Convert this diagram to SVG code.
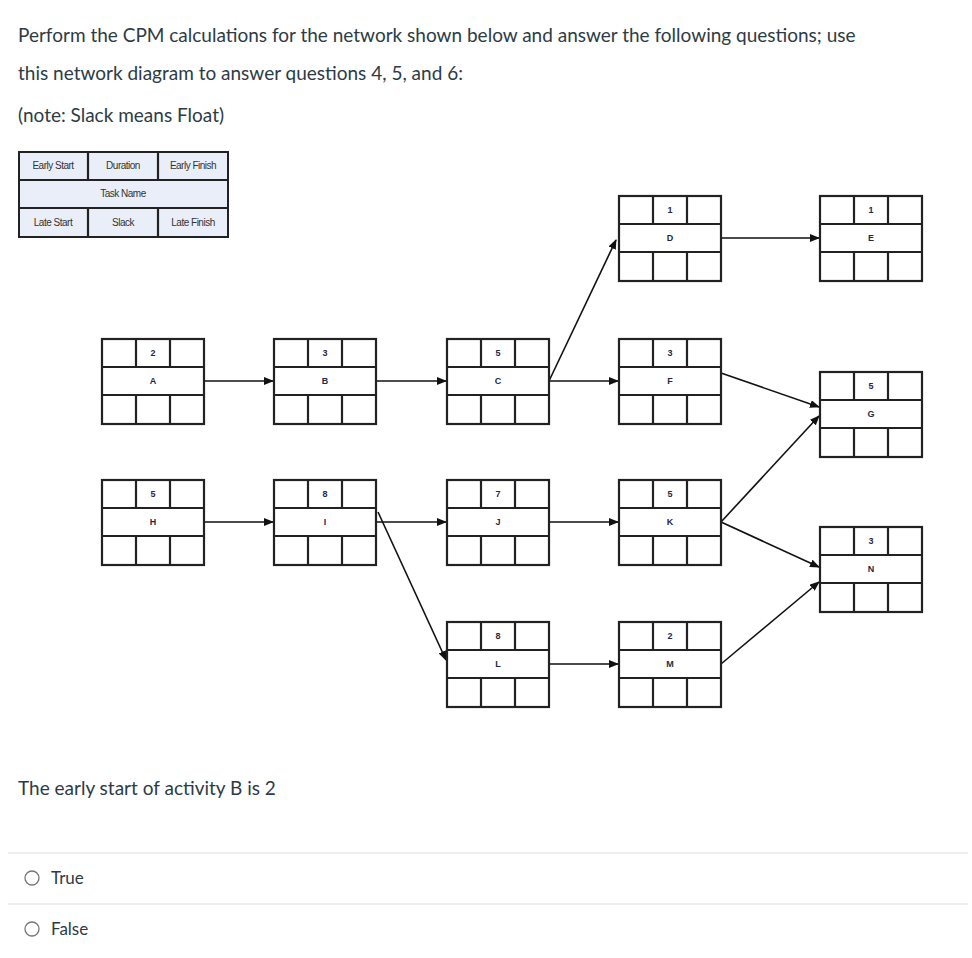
<svg xmlns="http://www.w3.org/2000/svg" width="972" height="958" viewBox="0 0 972 958">
<style>
.q{font-family:"Lato","Liberation Sans",sans-serif;font-size:19px;fill:#2d3b45}
.b{fill:#fff;stroke:#222;stroke-width:2.2}
.l{fill:none;stroke:#222;stroke-width:2.2}
.t{font-family:"Liberation Sans",sans-serif;font-size:9px;font-weight:bold;fill:#1f2a44;text-anchor:middle}
.lg{font-family:"Liberation Sans",sans-serif;font-size:10px;fill:#333;text-anchor:middle;letter-spacing:-0.5px}
.c{stroke:#111;stroke-width:1.6;fill:none;marker-end:url(#ah)}
.sep{stroke:#ddd;stroke-width:1}
</style>
<defs>
<marker id="ah" markerWidth="10" markerHeight="8" refX="9" refY="4" orient="auto" markerUnits="userSpaceOnUse"><path d="M0,0 L10,4 L0,8z" fill="#111"/></marker>
<g id="box"><rect class="b" x="0" y="0" width="102" height="85"/><path class="l" d="M0,28H102M0,56H102M34,0V28M68,0V28M34,56V85M68,56V85"/></g>
</defs>
<rect width="972" height="958" fill="#fff"/>
<text class="q" x="18" y="42">Perform the CPM calculations for the network shown below and answer the following questions; use</text>
<text class="q" x="18" y="80">this network diagram to answer questions 4, 5, and 6:</text>
<text class="q" x="18" y="122">(note: Slack means Float)</text>
<g id="legend">
<rect x="19" y="152" width="209" height="85" fill="#e9eef8" stroke="#222" stroke-width="2"/>
<path class="l" d="M19,180H228M19,208H228M88,152V180M158,152V180M88,208V237M158,208V237" stroke-width="2"/>
<text class="lg" x="53" y="169">Early Start</text><text class="lg" x="123" y="169">Duration</text><text class="lg" x="193" y="169">Early Finish</text>
<text class="lg" x="123" y="197">Task Name</text>
<text class="lg" x="53" y="226">Late Start</text><text class="lg" x="123" y="226">Slack</text><text class="lg" x="193" y="226">Late Finish</text>
</g>
<g id="connectors">
<path class="c" d="M204,381H273"/>
<path class="c" d="M376,381H446"/>
<path class="c" d="M549,381H618"/>
<path class="c" d="M549,381L616,240"/>
<path class="c" d="M721,238H819"/>
<path class="c" d="M721,373L819,407"/>
<path class="c" d="M721,522L819,416"/>
<path class="c" d="M721,522L819,567"/>
<path class="c" d="M721,664L819,582"/>
<path class="c" d="M204,522H273"/>
<path class="c" d="M376,522H446"/>
<path class="c" d="M549,522H618"/>
<path class="c" d="M378,512L446,660"/>
<path class="c" d="M549,664H618"/>
</g>
<g id="nD" transform="translate(619,196)"><use href="#box"/><text class="t" x="51" y="17">1</text><text class="t" x="51" y="45">D</text></g>
<g id="nE" transform="translate(820,196)"><use href="#box"/><text class="t" x="51" y="17">1</text><text class="t" x="51" y="45">E</text></g>
<g id="nA" transform="translate(102,339)"><use href="#box"/><text class="t" x="51" y="17">2</text><text class="t" x="51" y="45">A</text></g>
<g id="nB" transform="translate(274,339)"><use href="#box"/><text class="t" x="51" y="17">3</text><text class="t" x="51" y="45">B</text></g>
<g id="nC" transform="translate(447,339)"><use href="#box"/><text class="t" x="51" y="17">5</text><text class="t" x="51" y="45">C</text></g>
<g id="nF" transform="translate(619,339)"><use href="#box"/><text class="t" x="51" y="17">3</text><text class="t" x="51" y="45">F</text></g>
<g id="nG" transform="translate(820,372)"><use href="#box"/><text class="t" x="51" y="17">5</text><text class="t" x="51" y="45">G</text></g>
<g id="nH" transform="translate(102,480)"><use href="#box"/><text class="t" x="51" y="17">5</text><text class="t" x="51" y="45">H</text></g>
<g id="nI" transform="translate(274,480)"><use href="#box"/><text class="t" x="51" y="17">8</text><text class="t" x="51" y="45">I</text></g>
<g id="nJ" transform="translate(447,480)"><use href="#box"/><text class="t" x="51" y="17">7</text><text class="t" x="51" y="45">J</text></g>
<g id="nK" transform="translate(619,480)"><use href="#box"/><text class="t" x="51" y="17">5</text><text class="t" x="51" y="45">K</text></g>
<g id="nN" transform="translate(820,527)"><use href="#box"/><text class="t" x="51" y="17">3</text><text class="t" x="51" y="45">N</text></g>
<g id="nL" transform="translate(447,622)"><use href="#box"/><text class="t" x="51" y="17">8</text><text class="t" x="51" y="45">L</text></g>
<g id="nM" transform="translate(619,622)"><use href="#box"/><text class="t" x="51" y="17">2</text><text class="t" x="51" y="45">M</text></g>
<text class="q" x="18" y="795">The early start of activity B is 2</text>
<line class="sep" x1="8" y1="853" x2="968" y2="853"/>
<line class="sep" x1="8" y1="904" x2="968" y2="904"/>
<circle cx="32" cy="878" r="7" fill="#fff" stroke="#777" stroke-width="1.3"/>
<text class="q" x="51" y="884" style="font-size:17px">True</text>
<circle cx="32" cy="929" r="7" fill="#fff" stroke="#777" stroke-width="1.3"/>
<text class="q" x="51" y="935" style="font-size:17px">False</text>
</svg>
